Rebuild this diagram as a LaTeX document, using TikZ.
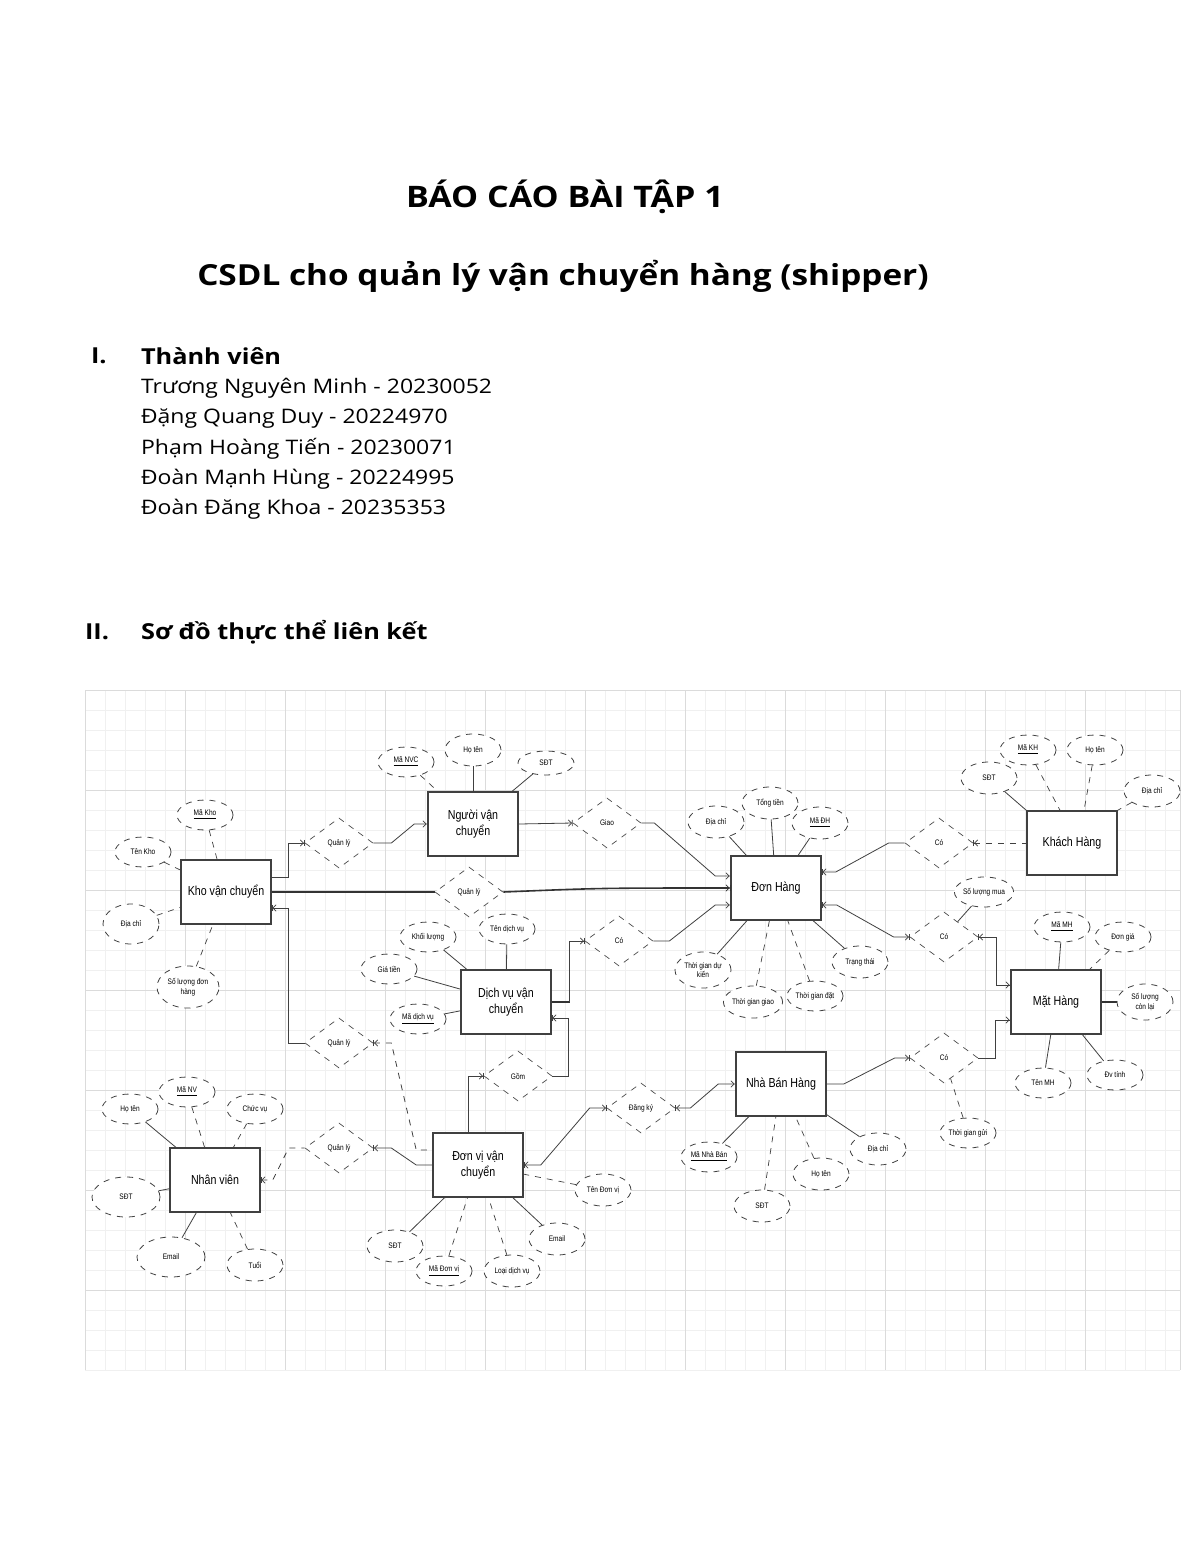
\documentclass[tikz,border=0pt]{standalone}
\usepackage{fontspec}
\setmainfont{Open Sans}[FakeStretch=1.15]
\newfontfamily\dg[FakeStretch=0.82]{Liberation Sans}
\usetikzlibrary{arrows.meta,shapes.geometric,calc}
\begin{document}
\begin{tikzpicture}[x=0.5pt,y=-0.5pt,
  gridminor/.style={draw=gray!12,line width=0.25pt},
  gridmajor/.style={draw=gray!28,line width=0.35pt},
  ent/.style={draw=black!75,line width=0.75pt,fill=white,minimum width=45pt,minimum height=32pt,inner sep=1pt,align=center,font=\dg\fontsize{6.5}{8}\selectfont},
  rel/.style={diamond,draw=black!70,dashed,line width=0.35pt,fill=white,minimum width=34pt,minimum height=25pt,inner sep=0pt,font=\dg\fontsize{4}{4.8}\selectfont},
  att/.style={ellipse,draw=black!75,dashed,line width=0.4pt,fill=white,minimum width=28pt,minimum height=15pt,inner sep=0pt,align=center,font=\dg\fontsize{4}{4.8}\selectfont},
  con/.style={draw=black!75,line width=0.4pt},
  conthick/.style={draw=black!80,line width=0.8pt},
  attl/.style={draw=black!75,dashed,line width=0.35pt},
  cf/.tip={Straight Barb[length=1.6pt,width=3.2pt,line width=0.35pt] Bar[width=3.2pt,line width=0.35pt]},
  head/.style={anchor=west,font=\bfseries\fontsize{11}{13}\selectfont},
  member/.style={anchor=west,font=\fontsize{10}{12}\selectfont}
]
\useasboundingbox (0,0) rectangle (1200,1553);
\fill[white] (0,0) rectangle (1200,1553);

% ---------- header text ----------
\node (title) at (565,197) {\bfseries\fontsize{14.8}{17}\selectfont BÁO CÁO BÀI TẬP 1};
\node (subtitle) at (563,276) {\bfseries\fontsize{14.5}{17}\selectfont CSDL cho quản lý vận chuyển hàng (shipper)};
\node[head] (h1n) at (84,356) {I.};
\node[head] (h1) at (134,356) {Thành viên};
\node[member] (m1) at (134,388) {Trương Nguyên Minh - 20230052};
\node[member] (m2) at (134,419) {Đặng Quang Duy - 20224970};
\node[member] (m3) at (134,449) {Phạm Hoàng Tiến - 20230071};
\node[member] (m4) at (134,479) {Đoàn Mạnh Hùng - 20224995};
\node[member] (m5) at (134,509) {Đoàn Đăng Khoa - 20235353};
\node[head] (h2n) at (78,632) {II.};
\node[head] (h2) at (134,632) {Sơ đồ thực thể liên kết};

% ---------- grid ----------
\foreach \i in {0,...,54} \draw[gridminor] ({85+20*\i},690) -- ({85+20*\i},1370);
\foreach \j in {0,...,34} \draw[gridminor] (85,{690+20*\j}) -- (1180,{690+20*\j});
\foreach \i in {0,...,10} \draw[gridmajor] ({85+100*\i},690) -- ({85+100*\i},1370);
\foreach \j in {0,...,6} \draw[gridmajor] (85,{690+100*\j}) -- (1180,{690+100*\j});
\draw[gridmajor] (1180,690) -- (1180,1370);

% ---------- entities ----------
\node[ent] (kho) at (226,892) {Kho vận chuyển};
\node[ent] (nvc) at (473,824) {Người vận\\chuyển};
\node[ent] (dh) at (776,888) {Đơn Hàng};
\node[ent] (kh) at (1072,843) {Khách Hàng};
\node[ent] (dv) at (506,1002) {Dịch vụ vận\\chuyển};
\node[ent] (mh) at (1056,1002) {Mặt Hàng};
\node[ent] (nbh) at (781,1084) {Nhà Bán Hàng};
\node[ent] (dvvc) at (478,1165) {Đơn vị vận\\chuyển};
\node[ent] (nv) at (215,1180) {Nhân viên};

% ---------- relationships ----------
\node[rel] (r1) at (339,843) {Quản lý};
\node[rel] (r2) at (469,892) {Quản lý};
\node[rel] (r3) at (607,823) {Giao};
\node[rel] (r4) at (939,843) {Có};
\node[rel] (r5) at (619,941) {Có};
\node[rel] (r10) at (944,937) {Có};
\node[rel] (r6) at (339,1043) {Quản lý};
\node[rel] (r7) at (518,1076) {Gồm};
\node[rel] (r8) at (641,1108) {Đăng ký};
\node[rel] (r9) at (944,1058) {Có};
\node[rel] (r11) at (339,1148) {Quản lý};

% ---------- relationship connectors ----------
\draw[con,-cf] ($(kho.east)+(0,-15)$) -- ++(17,0) |- (r1.west);
\draw[con,-cf] (r1.east) -- ++(18,0) -- ($(nvc.west)+(-13,0)$) -- (nvc.west);
\draw[conthick] (kho.east) -- (r2.west);
\draw[conthick,-cf] (r2.east) .. controls (600,888) .. (dh.west);
\draw[con,cf-] ($(kho.east)+(0,16)$) -- ++(17,0) |- (r6.west);
\draw[con,dashed,cf-] (r6.east) -- ++(18,0) -- ($(dvvc.west)+(-16,-15)$) -- ++(16,0);
\draw[con,-cf] (nvc.east) -- (r3.west);
\draw[con,-cf] (r3.east) -- ++(13,0) -- ($(dh.west)+(-15,-12)$) -- ++(15,0);
\draw[conthick] (dv.east) -- ++(18,0);
\draw[con,-cf] ($(dv.east)+(18,0)$) |- (r5.west);
\draw[con,-cf] (r5.east) -- ++(16,0) -- ($(dh.west)+(-15,17)$) -- ++(15,0);
\draw[con,-cf] ($(dvvc.north)+(-10,0)$) |- (r7.west);
\draw[con,-cf] (r7.east) -- ++(16,0) |- ($(dv.east)+(0,16)$);
\draw[con,cf-cf] (dvvc.east) -- ++(17,0) -- ($(r8.west)+(-17,0)$) -- (r8.west);
\draw[con,cf-cf] (r8.east) -- ++(15,0) -- ($(nbh.west)+(-17,0)$) -- (nbh.west);
\draw[con,-cf] (nbh.east) -- ++(17,0) -- ($(r9.west)+(-15,0)$) -- (r9.west);
\draw[con,-cf] (r9.east) -- ++(17,0) |- ($(mh.west)+(0,18)$);
\draw[con,cf-] ($(dh.east)+(0,-16)$) -- ++(14,0) -- ($(r4.west)+(-16,0)$) -- (r4.west);
\draw[con,dashed,cf-] (r4.east) -- (kh.west);
\draw[con,cf-cf] ($(dh.east)+(0,17)$) -- ++(15,0) -- ($(r10.west)+(-16,0)$) -- (r10.west);
\draw[con,cf-cf] (r10.east) -- ++(18,0) |- ($(mh.west)+(0,-17)$);
\draw[con,dashed,cf-] (nv.east) -- ++(12,0) -- ($(r11.west)+(-16,0)$) -- (r11.west);
\draw[con,cf-] (r11.east) -- ++(18,0) -- ($(dvvc.west)+(-16,0)$) -- (dvvc.west);

% ---------- attributes ----------
% Kho van chuyen
\node[att] (k1) at (205,815) {\underline{Mã Kho}};
\node[att] (k2) at (143,852) {Tên Kho};
\node[att,minimum height=20pt] (k3) at (131,924) {Địa chỉ};
\node[att,minimum width=31pt,minimum height=21pt] (k4) at (188,987) {Số lượng đơn\\hàng};
\foreach \a in {k1,k2,k3,k4} \draw[attl] (\a) -- (kho);
% Nguoi van chuyen
\node[att] (n1) at (406,762) {\underline{Mã NVC}};
\node[att,minimum height=16pt] (n2) at (473,750) {Họ tên};
\node[att,minimum height=12pt] (n3) at (546,763) {SĐT};
\draw[attl] (n1) -- (nvc);
\draw[con] (n2) -- (nvc);
\draw[con] (n3) -- (nvc);
% Don hang
\node[att,minimum height=16pt] (d1) at (716,822) {Địa chỉ};
\node[att,minimum height=16pt] (d2) at (770,803) {Tổng tiền};
\node[att,minimum height=16pt] (d3) at (820,823) {\underline{Mã ĐH}};
\node[att,minimum height=18pt] (d4) at (703,970) {Thời gian dự\\kiến};
\node[att,minimum height=16pt] (d5) at (753,1002) {Thời gian giao};
\node[att] (d6) at (815,996) {Thời gian đặt};
\node[att,minimum height=16pt] (d7) at (860,962) {Trạng thái};
\draw[con] (d1) -- (dh);
\draw[con] (d2) -- (dh);
\draw[con] (d3) -- (dh);
\draw[con] (d4) -- (dh);
\draw[attl] (d5) -- (dh);
\draw[attl] (d6) -- (dh);
\draw[con] (d7) -- (dh);
% Khach hang
\node[att,minimum height=16pt] (c1) at (989,778) {SĐT};
\node[att] (c2) at (1028,750) {\underline{Mã KH}};
\node[att] (c3) at (1095,750) {Họ tên};
\node[att,minimum height=16pt] (c4) at (1152,791) {Địa chỉ};
\draw[con] (c1) -- (kh.north west);
\draw[attl] (c2) -- ($(kh.north)+(-12,0)$);
\draw[attl] (c3) -- ($(kh.north)+(12,0)$);
\draw[attl] (c4) -- (kh.north east);
% Mat hang
\node[att] (s0) at (984,892) {Số lượng mua};
\draw[con] (s0) -- (r10);
\node[att] (h1a) at (1062,927) {\underline{Mã MH}};
\node[att] (h2a) at (1123,937) {Đơn giá};
\node[att,minimum height=18pt] (h3a) at (1145,1002) {Số lượng\\còn lại};
\node[att] (h4a) at (1043,1083) {Tên MH};
\node[att] (h5a) at (1115,1075) {Đv tính};
\draw[con] (h1a) -- (mh);
\draw[attl] (h2a) -- (mh);
\draw[conthick] (h3a) -- (mh);
\draw[con] (h4a) -- (mh);
\draw[con] (h5a) -- (mh);
% Co (NBH-MH)
\node[att] (t0) at (968,1133) {Thời gian gửi};
\draw[attl] (t0) -- (r9);
% Dich vu van chuyen
\node[att] (v1) at (428,937) {Khối lượng};
\node[att] (v2) at (507,929) {Tên dịch vụ};
\node[att] (v3) at (389,969) {Giá tiền};
\node[att] (v4) at (418,1019) {\underline{Mã dịch vụ}};
\draw[con] (v1) -- (dv);
\draw[con] (v2) -- (dv);
\draw[con] (v3) -- (dv);
\draw[con] (v4) -- (dv);
% Nha ban hang
\node[att] (b1) at (709,1157) {\underline{Mã Nhà Bán}};
\node[att,minimum height=16pt] (b2) at (762,1206) {SĐT};
\node[att,minimum height=16pt] (b3) at (821,1174) {Họ tên};
\node[att,minimum height=16pt] (b4) at (878,1149) {Địa chỉ};
\draw[con] (b1) -- (nbh);
\draw[attl] (b2) -- (nbh);
\draw[attl] (b3) -- (nbh);
\draw[con] (b4) -- (nbh);
% Don vi van chuyen
\node[att,minimum height=16pt] (u1) at (603,1190) {Tên Đơn vị};
\node[att,minimum height=16pt] (u2) at (557,1239) {Email};
\node[att,minimum height=16pt] (u3) at (512,1271) {Loại dịch vụ};
\node[att] (u4) at (444,1271) {\underline{Mã Đơn vị}};
\node[att,minimum height=16pt] (u5) at (395,1246) {SĐT};
\draw[attl] (u1) -- (dvvc);
\draw[con] (u2) -- (dvvc);
\draw[attl] (u3) -- (dvvc);
\draw[attl] (u4) -- (dvvc);
\draw[con] (u5) -- (dvvc);
% Nhan vien
\node[att] (e1) at (130,1109) {Họ tên};
\node[att] (e2) at (187,1092) {\underline{Mã NV}};
\node[att] (e3) at (255,1109) {Chức vụ};
\node[att,minimum width=34pt,minimum height=20pt] (e4) at (126,1197) {SĐT};
\node[att,minimum width=34pt,minimum height=20pt] (e5) at (171,1257) {Email};
\node[att,minimum height=16pt] (e6) at (255,1265) {Tuổi};
\draw[con] (e1) -- (nv);
\draw[attl] (e2) -- (nv);
\draw[attl] (e3) -- (nv);
\draw[con] (e4) -- (nv);
\draw[con] (e5) -- (nv);
\draw[attl] (e6) -- (nv);
\end{tikzpicture}
\end{document}
